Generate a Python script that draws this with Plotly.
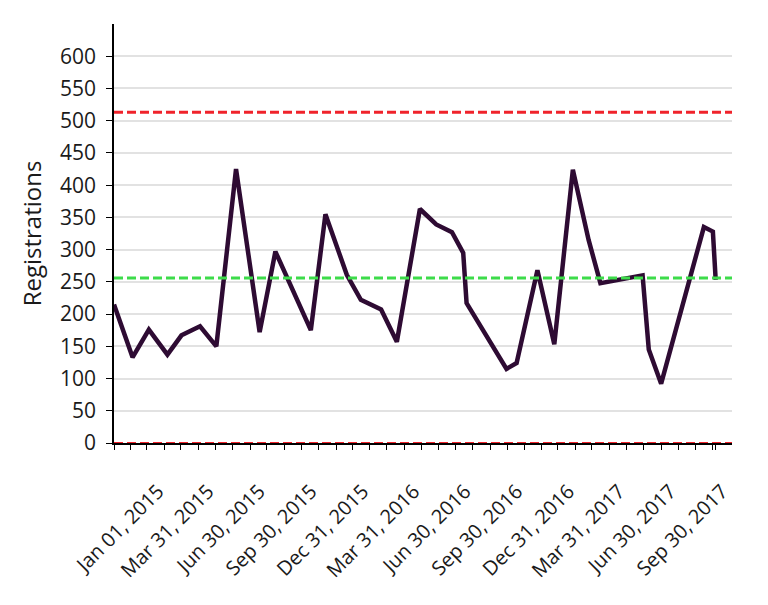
import pandas as pd
import plotly.graph_objects as go

# registrations
dates = [
    "2015-01-01", "2015-02-03", "2015-03-04", "2015-04-06", "2015-05-01",
    "2015-06-03", "2015-07-02", "2015-08-06", "2015-09-17", "2015-10-15",
    "2015-12-17", "2016-01-12", "2016-02-19", "2016-03-15", "2016-04-20",
    "2016-05-18", "2016-06-28", "2016-07-27", "2016-08-24", "2016-09-13",
    "2016-09-19", "2016-11-29", "2016-12-17", "2017-01-23", "2017-02-22",
    "2017-03-27", "2017-04-24", "2017-05-15", "2017-07-29", "2017-08-09",
    "2017-08-31", "2017-11-15", "2017-12-01", "2017-12-06",
]
registrations = [
    215, 133, 176, 137, 167,
    181, 150, 425, 172, 297,
    175, 355, 261, 222, 207,
    157, 363, 339, 327, 295,
    217, 115, 124, 268, 153,
    424, 315, 248, 260, 145,
    92, 335, 328, 253,
]

mean_line = 256
upper_limit = 513
lower_limit = 0

# ticks: start date, every month end, and the last observation
tick_dates = (["2015-01-01"]
              + [d.strftime("%Y-%m-%d") for d in pd.date_range("2015-01-31", "2017-11-30", freq="ME")]
              + ["2017-12-06"])
labelled = {
    "2015-01-01": "Jan 01, 2015", "2015-03-31": "Mar 31, 2015", "2015-06-30": "Jun 30, 2015",
    "2015-09-30": "Sep 30, 2015", "2015-12-31": "Dec 31, 2015", "2016-03-31": "Mar 31, 2016",
    "2016-06-30": "Jun 30, 2016", "2016-09-30": "Sep 30, 2016", "2016-12-31": "Dec 31, 2016",
    "2017-03-31": "Mar 31, 2017", "2017-06-30": "Jun 30, 2017", "2017-09-30": "Sep 30, 2017",
}
tick_text = [labelled.get(d, "") for d in tick_dates]

y_ticks = list(range(0, 601, 50))

fig = go.Figure()
fig.add_trace(go.Scatter(x=dates, y=registrations, mode="lines",
                         line=dict(color="#2e0b33", width=4.5), showlegend=False,
                         hoverinfo="x+y"))

fig.add_hline(y=upper_limit, line=dict(color="#f0232b", width=3, dash="9px,4px"), layer="above")
fig.add_hline(y=mean_line, line=dict(color="#3ddc4a", width=3, dash="9px,4px"), layer="above")
fig.add_hline(y=lower_limit, line=dict(color="#f0232b", width=2, dash="9px,4px"), layer="above")

fig.update_xaxes(
    type="date", range=["2015-01-01", "2018-01-04"],
    tickmode="array", tickvals=tick_dates, ticktext=tick_text,
    tickangle=-45, ticks="outside", ticklen=5, tickcolor="black",
    showline=True, linecolor="black", linewidth=1.5, showgrid=False,
    ticklabelshift=44, ticklabelstandoff=22,
    tickfont=dict(size=20, color="#1a1a1a"),
)
fig.update_yaxes(
    range=[0, 650], tickmode="array", tickvals=y_ticks,
    ticks="outside", ticklen=6, tickcolor="black",
    showline=True, linecolor="black", linewidth=1.5, zeroline=False,
    showgrid=True, gridcolor="#e2e2e2", gridwidth=1.5,
    minor=dict(tickvals=[650], showgrid=True, gridcolor="#e2e2e2", gridwidth=1.5, ticks=""),
    ticklabelstandoff=6,
    tickfont=dict(size=21, color="#1a1a1a"),
    title=dict(text="Registrations", font=dict(size=24, color="#1a1a1a"), standoff=12),
)
# page body adds an 8px margin, so the figure is trimmed by that much
fig.update_layout(
    width=760, height=597,
    margin=dict(l=106, r=36, t=16, b=162),
    plot_bgcolor="white", paper_bgcolor="white",
    font=dict(family="Open Sans, sans-serif"),
    showlegend=False,
)

fig.write_html("out.html")
